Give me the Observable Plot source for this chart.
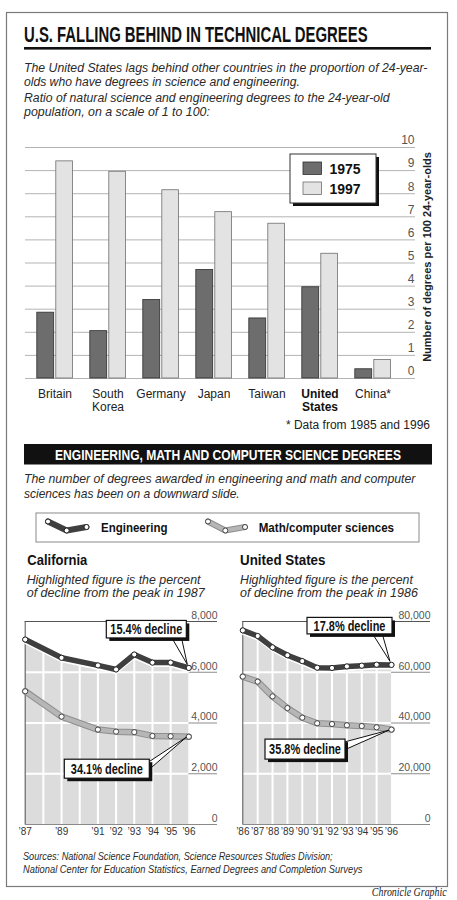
<!DOCTYPE html>
<html>
<head>
<meta charset="utf-8">
<script src="https://cdn.jsdelivr.net/npm/d3@7"></script>
<script src="https://cdn.jsdelivr.net/npm/@observablehq/plot@0.6"></script>
<style>
  html, body { margin: 0; padding: 0; background: #fff; }
  #page { position: relative; width: 457px; height: 900px; overflow: hidden; background: #fff; }
  .chart { position: absolute; }
  .chart svg { display: block; }
  #overlay { position: absolute; left: 0; top: 0; pointer-events: none; }
</style>
</head>
<body>
<div id="page"></div>
<script>
// ---------- DATA ----------
const titleText = "U.S. FALLING BEHIND IN TECHNICAL DEGREES";
const introLines = [
  "The United States lags behind other countries in the proportion of 24-year-",
  "olds who have degrees in science and engineering."
];
const ratioLines = [
  "Ratio of natural science and engineering degrees to the 24-year-old",
  "population, on a scale of 1 to 100:"
];
const countries = ["Britain", "South Korea", "Germany", "Japan", "Taiwan", "United States", "China*"];
const countryLabels = ["Britain", "South\nKorea", "Germany", "Japan", "Taiwan", "United\nStates", "China*"];
const ratio1975 = [2.85, 2.05, 3.4, 4.7, 2.6, 3.95, 0.4];
const ratio1997 = [9.4, 8.95, 8.15, 7.2, 6.7, 5.4, 0.8];
const ratioTicks = [0, 1, 2, 3, 4, 5, 6, 7, 8, 9, 10];
const barYears = ["1975", "1997"];
const ratioAxisLabel = "Number of degrees per 100 24-year-olds";
const barNote = "* Data from 1985 and 1996";

const bannerText = "ENGINEERING, MATH AND COMPUTER SCIENCE DEGREES";
const slideLines = [
  "The number of degrees awarded in engineering and math and computer",
  "sciences has been on a downward slide."
];
const seriesNames = ["Engineering", "Math/computer sciences"];

const caTitle = "California";
const caNote = ["Highlighted figure is the percent", "of decline from the peak in 1987"];
const caYears = [1987, 1989, 1991, 1992, 1993, 1994, 1995, 1996];
const caEngineering = [7290, 6570, 6270, 6110, 6700, 6380, 6380, 6170];
const caMath = [5250, 4250, 3740, 3660, 3640, 3490, 3480, 3460];
const caGridYears = [1988, 1989, 1990, 1991, 1992, 1993, 1994, 1995];
const caTicks = [0, 2000, 4000, 6000, 8000];

const usTitle = "United States";
const usNote = ["Highlighted figure is the percent", "of decline from the peak in 1986"];
const usYears = [1986, 1987, 1988, 1989, 1990, 1991, 1992, 1993, 1994, 1995, 1996];
const usEngineering = [76500, 74300, 69800, 66700, 64400, 61800, 61700, 62300, 62600, 63000, 62900];
const usMath = [58300, 56300, 50500, 45900, 42100, 39900, 39600, 39100, 38800, 38300, 37400];
const usGridYears = [1987, 1988, 1989, 1990, 1991, 1992, 1993, 1994, 1995];
const usTicks = [0, 20000, 40000, 60000, 80000];

const declineLabels = ["15.4% decline", "34.1% decline", "17.8% decline", "35.8% decline"];
const sourceLines = [
  "Sources: National Science Foundation, Science Resources Studies Division;",
  "National Center for Education Statistics, Earned Degrees and Completion Surveys"
];
const creditText = "Chronicle Graphic";

// ---------- SETUP ----------
const FONT = "'Liberation Sans', Arial, Helvetica, sans-serif";
const page = document.getElementById("page");

function place(node, left, top) {
  const div = document.createElement("div");
  div.className = "chart";
  div.style.left = left + "px";
  div.style.top = top + "px";
  div.appendChild(node);
  page.appendChild(div);
  return div;
}

// ---------- BAR CHART ----------
const barData = countries.flatMap((c, i) => [
  {country: c, year: barYears[0], value: ratio1975[i]},
  {country: c, year: barYears[1], value: ratio1997[i]}
]);
const BAR_LEFT = 0, BAR_TOP = 125;
const barChart = Plot.plot({
  width: 457, height: 290,
  marginTop: 22, marginBottom: 37, marginLeft: 25, marginRight: 42,
  x: {domain: countries, range: [26.2, 401.4], padding: 0, axis: null},
  y: {domain: [0, 10], axis: null},
  style: {fontFamily: FONT, background: "transparent", overflow: "visible"},
  marks: [
    Plot.ruleY(ratioTicks, {stroke: "#b4b4b4", strokeWidth: 1}),
    Plot.barY(barData.filter(d => d.year === barYears[0]), {
      x: "country", y: "value", fill: "#6d6d6d", stroke: "#2e2e2e", strokeWidth: 0.8,
      insetLeft: 8.8, insetRight: 27.3
    }),
    Plot.barY(barData.filter(d => d.year === barYears[1]), {
      x: "country", y: "value", fill: "#e3e3e3", stroke: "#6e6e6e", strokeWidth: 0.8,
      insetLeft: 27.8, insetRight: 8.6
    }),
    Plot.axisY(ratioTicks, {
      anchor: "right", tickSize: 0, tickPadding: 0, textAnchor: "end", dx: -1, dy: -7,
      fontSize: 12, fill: "#555", label: null
    }),
    Plot.text(countries.filter(c => c !== "United States"), {
      x: d => d, y: () => 0, text: d => countryLabels[countries.indexOf(d)],
      lineAnchor: "top", dy: 10, fontSize: 12, fill: "#222", lineHeight: 1.12
    }),
    Plot.text(countries.filter(c => c === "United States"), {
      x: d => d, y: () => 0, text: d => countryLabels[countries.indexOf(d)],
      lineAnchor: "top", dy: 10, fontSize: 12, fill: "#111", fontWeight: "bold", lineHeight: 1.12
    }),
    Plot.text([ratioAxisLabel], {
      frameAnchor: "right", text: d => d, rotate: -90, textAnchor: "middle", dx: 12, dy: -6,
      fontSize: 11, fontWeight: "bold", fill: "#222"
    })
  ]
});
place(barChart, BAR_LEFT, BAR_TOP);

// ---------- LINE CHARTS ----------
function lineChart({years, eng, math, grid, ticks, tickYears, xDomain, width, marginLeft, xRight, marginRight}) {
  const data = years.map((year, i) => ({year, eng: eng[i], math: math[i]}));
  const yMax = ticks[ticks.length - 1];
  const inner = ticks.slice(1, -1);
  const round = {strokeLinejoin: "round", strokeLinecap: "round"};
  return Plot.plot({
    width, height: 240,
    marginTop: 21, marginBottom: 16, marginLeft, marginRight,
    x: {domain: xDomain, range: [marginLeft, xRight], axis: null},
    y: {domain: [0, yMax], axis: null},
    style: {fontFamily: FONT, background: "transparent", overflow: "visible"},
    marks: [
      Plot.ruleY(inner, {stroke: "#8c8c8c", strokeWidth: 1}),
      Plot.areaY(data, {x: "year", y: "eng", fill: "#dcdcdc"}),
      Plot.ruleX(grid, {y1: 0, y2: yMax, stroke: "#fff", strokeWidth: 2}),
      Plot.ruleY(inner, {x1: xDomain[0], x2: xDomain[1], stroke: "#fff", strokeWidth: 2}),
      Plot.ruleY([0], {stroke: "#8a8a8a", strokeWidth: 1}),
      Plot.ruleY([yMax], {stroke: "#555", strokeWidth: 1}),
      Plot.ruleX([xDomain[0]], {y1: 0, y2: yMax, stroke: "#555", strokeWidth: 1}),
      Plot.line(data, {x: "year", y: "eng", stroke: "#fff", strokeWidth: 2, dy: 3.5, ...round}),
      Plot.line(data, {x: "year", y: "math", stroke: "#8e8e8e", strokeWidth: 6.5, ...round}),
      Plot.line(data, {x: "year", y: "math", stroke: "#b6b6b6", strokeWidth: 4.5, ...round}),
      Plot.line(data, {x: "year", y: "eng", stroke: "#3f3f3f", strokeWidth: 5.5, ...round}),
      Plot.dot(data, {x: "year", y: "eng", r: 2.6, fill: "#fff", stroke: "#222", strokeWidth: 1}),
      Plot.dot(data, {x: "year", y: "math", r: 2.6, fill: "#fff", stroke: "#444", strokeWidth: 1}),
      Plot.axisY(ticks, {
        anchor: "right", tickSize: 0, tickPadding: 0, textAnchor: "end", dy: -6,
        fontSize: 10.5, fill: "#555", tickFormat: d3.format(","), label: null
      }),
      Plot.axisX(tickYears, {
        tickSize: 0, tickPadding: 3, fontSize: 10, fill: "#333",
        tickFormat: d => "\u2019" + String(d).slice(2), label: null
      })
    ]
  });
}

const CA_LEFT = 0, CA_TOP = 600;
const caChart = lineChart({
  years: caYears, eng: caEngineering, math: caMath, grid: caGridYears, ticks: caTicks,
  tickYears: caYears, xDomain: [1987, 1996], width: 228, marginLeft: 24.7, xRight: 188.3, marginRight: 11
});
place(caChart, CA_LEFT, CA_TOP);

const US_LEFT = 225, US_TOP = 600;
const usChart = lineChart({
  years: usYears, eng: usEngineering, math: usMath, grid: usGridYears, ticks: usTicks,
  tickYears: usYears, xDomain: [1986, 1996], width: 232, marginLeft: 17.3, xRight: 166, marginRight: 27
});
place(usChart, US_LEFT, US_TOP);

// ---------- OVERLAY (titles, legends, callouts) ----------
const svg = d3.select(page).append("svg")
  .attr("id", "overlay").attr("width", 457).attr("height", 900)
  .attr("font-family", FONT);

// text helper: if a target width is given, the text is squeezed horizontally with a transform
function txt(s, x, y, o = {}) {
  const t = svg.append("text")
    .attr("x", 0).attr("y", 0)
    .attr("font-size", o.size || 12)
    .attr("font-weight", o.weight || "normal")
    .attr("font-style", o.style || "normal")
    .attr("fill", o.fill || "#222")
    .attr("text-anchor", o.anchor || "start")
    .text(s);
  if (o.family) t.attr("font-family", o.family);
  let sx = 1;
  if (o.len) {
    const natural = t.node().getComputedTextLength();
    if (natural > 0) sx = o.len / natural;
  }
  t.attr("transform", `translate(${x},${y}) scale(${sx},1)`);
  return t;
}

// outer border
svg.append("rect").attr("x", 6.5).attr("y", 12.5).attr("width", 441).attr("height", 874)
  .attr("fill", "none").attr("stroke", "#7a7a7a").attr("stroke-width", 1.2);

// title + rule
txt(titleText, 24, 41.6, {size: 22, weight: "bold", fill: "#111", len: 344});
svg.append("rect").attr("x", 24).attr("y", 47).attr("width", 407).attr("height", 2.6).attr("fill", "#111");

// intro
txt(introLines[0], 24, 71.7, {size: 12.5, style: "italic", fill: "#2a2a2a", len: 404});
txt(introLines[1], 24, 85.5, {size: 12.5, style: "italic", fill: "#2a2a2a", len: 276});
txt(ratioLines[0], 24, 101.7, {size: 12.5, style: "italic", fill: "#2a2a2a", len: 366});
txt(ratioLines[1], 24, 116.3, {size: 12.5, style: "italic", fill: "#2a2a2a", len: 186});

// bar legend
svg.append("rect").attr("x", 293).attr("y", 157).attr("width", 86).attr("height", 49).attr("fill", "#111");
svg.append("rect").attr("x", 290).attr("y", 154).attr("width", 86).attr("height", 49)
  .attr("fill", "#fff").attr("stroke", "#333").attr("stroke-width", 1);
svg.append("rect").attr("x", 303).attr("y", 162).attr("width", 18.5).attr("height", 12.5)
  .attr("fill", "#6d6d6d").attr("stroke", "#2e2e2e").attr("stroke-width", 0.8);
svg.append("rect").attr("x", 303).attr("y", 182).attr("width", 18.5).attr("height", 12.5)
  .attr("fill", "#e3e3e3").attr("stroke", "#6e6e6e").attr("stroke-width", 0.8);
txt(barYears[0], 329.5, 173.5, {size: 14, weight: "bold", fill: "#111"});
txt(barYears[1], 329.5, 193.5, {size: 14, weight: "bold", fill: "#111"});

// bar note
txt(barNote, 430, 428.5, {size: 12, fill: "#222", anchor: "end"});

// banner
svg.append("rect").attr("x", 24).attr("y", 444).attr("width", 408).attr("height", 20.5).attr("fill", "#111");
txt(bannerText, 228, 460, {size: 15, weight: "bold", fill: "#fff", anchor: "middle", len: 346});

// slide text
txt(slideLines[0], 24, 483.3, {size: 12.5, style: "italic", fill: "#2a2a2a", len: 392});
txt(slideLines[1], 24, 498.2, {size: 12.5, style: "italic", fill: "#2a2a2a", len: 216});

// series legend
svg.append("rect").attr("x", 36).attr("y", 513).attr("width", 383).attr("height", 29)
  .attr("fill", "#fff").attr("stroke", "#8a8a8a").attr("stroke-width", 1);
function legendIcon(pts, outer, innerC, dotStroke) {
  const line = d3.line();
  svg.append("path").attr("d", line(pts)).attr("fill", "none").attr("stroke", outer)
    .attr("stroke-width", 6).attr("stroke-linejoin", "round").attr("stroke-linecap", "round");
  if (innerC) svg.append("path").attr("d", line(pts)).attr("fill", "none").attr("stroke", innerC)
    .attr("stroke-width", 4.2).attr("stroke-linejoin", "round").attr("stroke-linecap", "round");
  pts.forEach(p => svg.append("circle").attr("cx", p[0]).attr("cy", p[1]).attr("r", 2.5)
    .attr("fill", "#fff").attr("stroke", dotStroke).attr("stroke-width", 1));
}
legendIcon([[48, 521.5], [66.7, 530.5], [86.5, 527]], "#3f3f3f", null, "#222");
legendIcon([[208, 521.5], [225.3, 530.5], [245, 527]], "#8e8e8e", "#b6b6b6", "#444");
txt(seriesNames[0], 101, 531.6, {size: 13, weight: "bold", fill: "#111", len: 66.5});
txt(seriesNames[1], 258.7, 531.6, {size: 13, weight: "bold", fill: "#111", len: 135.5});

// panel headings
txt(caTitle, 27.3, 565, {size: 14, weight: "bold", fill: "#111", len: 60});
txt(usTitle, 240, 565, {size: 14, weight: "bold", fill: "#111", len: 85.5});
txt(caNote[0], 26.7, 583.5, {size: 12.5, style: "italic", fill: "#2a2a2a", len: 174});
txt(caNote[1], 26.7, 597.3, {size: 12.5, style: "italic", fill: "#2a2a2a", len: 178});
txt(usNote[0], 240, 583.5, {size: 12.5, style: "italic", fill: "#2a2a2a", len: 173});
txt(usNote[1], 240, 597.3, {size: 12.5, style: "italic", fill: "#2a2a2a", len: 178});

// callouts anchored to the data through the charts' scales
function pointOf(chart, left, top, year, value) {
  return [left + chart.scale("x").apply(year), top + chart.scale("y").apply(value)];
}
function callout(label, box, wedge) {
  svg.append("polygon").attr("points", wedge.map(p => p.join(",")).join(" "))
    .attr("fill", "#fff").attr("stroke", "#111").attr("stroke-width", 1).attr("stroke-linejoin", "round");
  svg.append("rect").attr("x", box.x + 3).attr("y", box.y + 3).attr("width", box.w).attr("height", box.h).attr("fill", "#111");
  svg.append("rect").attr("x", box.x).attr("y", box.y).attr("width", box.w).attr("height", box.h)
    .attr("fill", "#fff").attr("stroke", "#111").attr("stroke-width", 1.2);
  txt(label, box.x + box.w / 2, box.y + box.h / 2 + 5.2, {size: 14.5, weight: "bold", fill: "#111", anchor: "middle", len: 72});
}
{
  const [px, py] = pointOf(caChart, CA_LEFT, CA_TOP, caYears.at(-1), caEngineering.at(-1));
  const box = {x: px - 82, y: py - 47, w: 80, h: 17.5};
  callout(declineLabels[0], box, [[px - 17, box.y + box.h - 1], [px - 7, box.y + box.h - 1], [px - 1, py - 3]]);
}
{
  const [px, py] = pointOf(caChart, CA_LEFT, CA_TOP, caYears.at(-1), caMath.at(-1));
  const box = {x: px - 124, y: py + 23, w: 85, h: 19};
  callout(declineLabels[1], box, [[box.x + box.w - 1, box.y + 3], [box.x + box.w - 1, box.y + 11], [px - 2, py + 1]]);
}
{
  const [px, py] = pointOf(usChart, US_LEFT, US_TOP, usYears.at(-1), usEngineering.at(-1));
  const box = {x: px - 84, y: py - 47, w: 85, h: 16.5};
  callout(declineLabels[2], box, [[px - 19, box.y + box.h - 1], [px - 9, box.y + box.h - 1], [px - 1, py - 3]]);
}
{
  const [px, py] = pointOf(usChart, US_LEFT, US_TOP, usYears.at(-1), usMath.at(-1));
  const box = {x: px - 126, y: py + 10, w: 80, h: 20};
  callout(declineLabels[3], box, [[box.x + box.w - 1, box.y + 3], [box.x + box.w - 1, box.y + 11], [px - 2, py + 1]]);
}

// sources + credit
txt(sourceLines[0], 23, 859.5, {size: 11, style: "italic", fill: "#2a2a2a", len: 310});
txt(sourceLines[1], 23, 872.5, {size: 11, style: "italic", fill: "#2a2a2a", len: 340});
txt(creditText, 446.7, 896, {size: 11.5, style: "italic", fill: "#222", anchor: "end",
  family: "'Liberation Serif', 'DejaVu Serif', serif", len: 75});
</script>
</body>
</html>
